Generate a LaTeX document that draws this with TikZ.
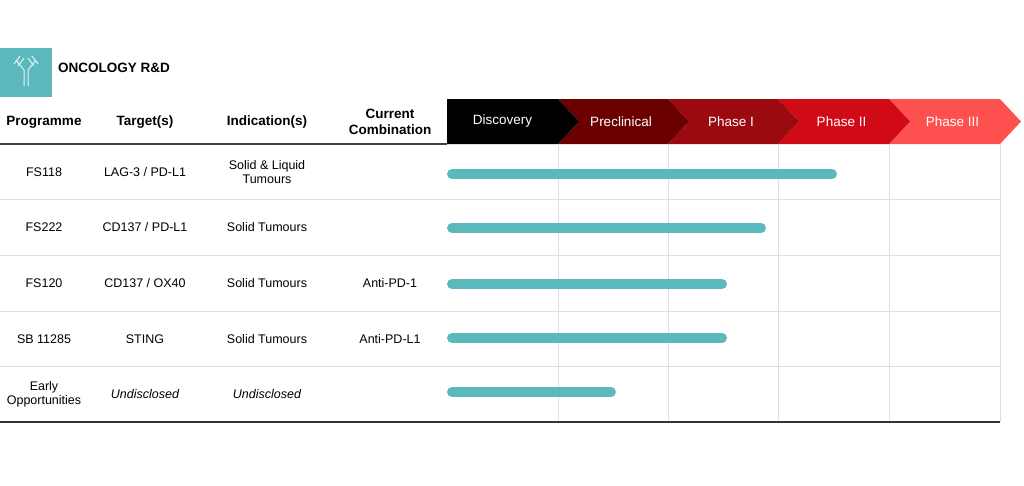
\documentclass[tikz,border=0pt]{standalone}
\usepackage{fontspec}
\setmainfont{Liberation Sans}
\begin{document}
\begin{tikzpicture}[x=1pt,y=-1pt,
  txt/.style={font=\fontsize{12.5}{14}\selectfont,align=center,inner sep=0pt},
  hdr/.style={font=\fontsize{13.5}{15}\selectfont\bfseries,align=center,inner sep=0pt},
  chev/.style={font=\fontsize{13.5}{15}\selectfont,text=white,inner sep=0pt},
  bar/.style={line width=10pt,line cap=round,draw=teal0},
  grid/.style={draw=gray!25,line width=0.6pt}]
\definecolor{teal0}{HTML}{5BB8BC}
\definecolor{c1}{HTML}{000000}
\definecolor{c2}{HTML}{6B0000}
\definecolor{c3}{HTML}{9A0A0F}
\definecolor{c4}{HTML}{D00A16}
\definecolor{c5}{HTML}{FF5050}
\useasboundingbox (0,0) rectangle (1024,485);
% logo
\fill[teal0] (0,48) rectangle (52,97);
\begin{scope}[draw=white!85!teal0,line width=1pt]
\draw (24,86) -- (24,70) -- (16,60) (28,86) -- (28,70) -- (36,60);
\draw (14,64) -- (20,56) (18,66) -- (24,58) (38,64) -- (32,56) (34,66) -- (28,58);
\end{scope}
\node[hdr,anchor=west] (title) at (58,68) {ONCOLOGY R\&D};
% chevrons
\foreach \i/\a/\b/\c/\t in {5/889/1000/c5/Phase III,4/778/889/c4/Phase II,3/668/778/c3/Phase I,2/558/668/c2/Preclinical,1/447/558/c1/Discovery}{
  \ifnum\i=1
    \fill[\c] (\a,99) -- (\b,99) -- (\b+21,121.5) -- (\b,144) -- (\a,144) -- cycle;
  \else
    \fill[\c] (\a,99) -- (\b,99) -- (\b+21,121.5) -- (\b,144) -- (\a,144) -- (\a+21,121.5) -- cycle;
  \fi
  \node[chev] (ph\i) at ({(\a+\b)/2+(\i>1)*8},121.5) {\t};
}
% column headers
\node[hdr] (h1) at (44,122) {Programme};
\node[hdr] (h2) at (145,122) {Target(s)};
\node[hdr] (h3) at (267,122) {Indication(s)};
\node[hdr] (h4) at (390,122) {Current\\[1pt]Combination};
\draw[line width=1.2pt,black!75] (0,144) -- (447,144);
% grid
\foreach \x in {558,668,778,889,1000} \draw[grid] (\x,144) -- (\x,422);
\foreach \y in {199,255,311,366} \draw[grid] (0,\y) -- (1000,\y);
\draw[line width=1.5pt,black!80] (0,422) -- (1000,422);
% rows
\node[txt] (p1) at (44,172) {FS118};
\node[txt] (t1) at (145,172) {LAG-3 / PD-L1};
\node[txt] (i1) at (267,172) {Solid \& Liquid\\Tumours};
\node[txt] (p2) at (44,227) {FS222};
\node[txt] (t2) at (145,227) {CD137 / PD-L1};
\node[txt] (i2) at (267,227) {Solid Tumours};
\node[txt] (p3) at (44,283) {FS120};
\node[txt] (t3) at (145,283) {CD137 / OX40};
\node[txt] (i3) at (267,283) {Solid Tumours};
\node[txt] (c3) at (390,283) {Anti-PD-1};
\node[txt] (p4) at (44,339) {SB 11285};
\node[txt] (t4) at (145,339) {STING};
\node[txt] (i4) at (267,339) {Solid Tumours};
\node[txt] (c4) at (390,339) {Anti-PD-L1};
\node[txt] (p5) at (44,394) {Early\\Opportunities};
\node[txt,font=\fontsize{12.5}{14}\selectfont\itshape] (t5) at (145,394) {Undisclosed};
\node[txt,font=\fontsize{12.5}{14}\selectfont\itshape] (i5) at (267,394) {Undisclosed};
% bars
\coordinate (s1) at (452,174); \coordinate (e1) at (832,174);
\coordinate (s2) at (452,228); \coordinate (e2) at (761,228);
\coordinate (s3) at (452,284); \coordinate (e3) at (722,284);
\coordinate (s4) at (452,338); \coordinate (e4) at (722,338);
\coordinate (s5) at (452,392); \coordinate (e5) at (611,392);
\foreach \i in {1,...,5} \draw[bar] (s\i) -- (e\i);
\end{tikzpicture}
\end{document}
